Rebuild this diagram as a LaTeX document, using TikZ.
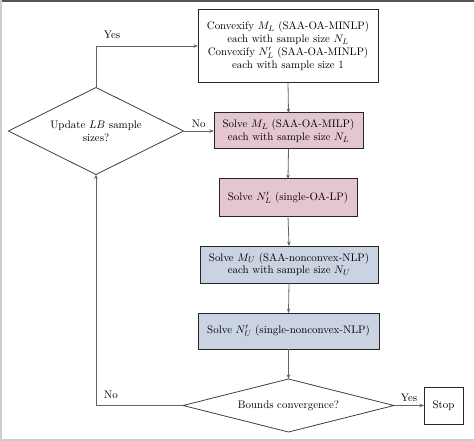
\documentclass[tikz,border=0pt]{standalone}
\usetikzlibrary{shapes.geometric,arrows.meta}
\definecolor{pinkfill}{RGB}{228,199,206}
\definecolor{bluefill}{RGB}{202,211,225}
\definecolor{linegray}{RGB}{100,100,100}
\definecolor{edgegray}{RGB}{205,205,205}
\definecolor{topgray}{RGB}{85,85,85}
\begin{document}
\begin{tikzpicture}[x=1pt,y=-1pt,
  txt/.style={font=\fontsize{10.9}{12.6}\selectfont},
  box/.style={draw=black!85,line width=1pt,align=center,inner sep=0pt,outer sep=0pt,txt},
  pinkbox/.style={box,fill=pinkfill},
  bluebox/.style={box,fill=bluefill},
  decision/.style={diamond,draw=black!75,line width=0.8pt,align=center,inner sep=0pt,outer sep=0pt,txt},
  arr/.style={draw=linegray,line width=0.8pt,-{Stealth[length=4.5pt,width=3.5pt]}},
  lbl/.style={txt,inner sep=1pt}]
\useasboundingbox (0,0) rectangle (474,441);
\fill[white] (0,0) rectangle (474,441);
\fill[topgray] (0,0) rectangle (474,2.2);
\fill[edgegray] (0,0) rectangle (2.2,441);
\fill[edgegray] (0,438.5) rectangle (474,441);

\node[box,minimum width=180pt,minimum height=73pt] (b1) at (288,46)
  {Convexify $M_L$ (SAA-OA-MINLP)\\ each with sample size $N_L$\\[0.6pt] Convexify $N'_L$ (SAA-OA-MINLP)\\ each with sample size 1};
\node[pinkbox,minimum width=149pt,minimum height=36pt] (b2) at (288.5,131)
  {Solve $M_L$ (SAA-OA-MILP)\\ each with sample size $N_L$};
\node[pinkbox,minimum width=138pt,minimum height=37pt] (b3) at (288,197.5)
  {Solve $N'_L$ (single-OA-LP)};
\node[bluebox,minimum width=178pt,minimum height=37pt] (b4) at (289,264.5)
  {Solve $M_U$ (SAA-nonconvex-NLP)\\ each with sample size $N_U$};
\node[bluebox,minimum width=181pt,minimum height=36pt] (b5) at (288.5,331)
  {Solve $N'_U$ (single-nonconvex-NLP)};
\node[decision,minimum width=211pt,minimum height=53pt,aspect=4] (d2) at (288.5,405.5)
  {Bounds convergence?};
\node[box,minimum width=39pt,minimum height=37pt] (stop) at (443.5,405.5) {Stop};
\node[decision,minimum width=175pt,minimum height=87pt,aspect=2] (d1) at (96,131)
  {Update $LB$ sample\\ sizes?};

\draw[arr] (b1.south) -- (b2.north);
\draw[arr] (b2.south) -- (b3.north);
\draw[arr] (b3.south) -- (b4.north);
\draw[arr] (b4.south) -- (b5.north);
\draw[arr] (b5.south) -- (d2.north);
\draw[arr] (d2.east) -- (stop.west) node[lbl,midway,above,yshift=2pt] {Yes};
\draw[arr] (d2.west) -| (d1.south) node[lbl,pos=0.5,xshift=15pt,yshift=11pt] {No};
\draw[arr] (d1.north) |- (b1.west) node[lbl,pos=0.5,xshift=16pt,yshift=11pt] {Yes};
\draw[arr] (d1.east) -- (b2.west) node[lbl,midway,above,yshift=2pt] {No};
\end{tikzpicture}
\end{document}
